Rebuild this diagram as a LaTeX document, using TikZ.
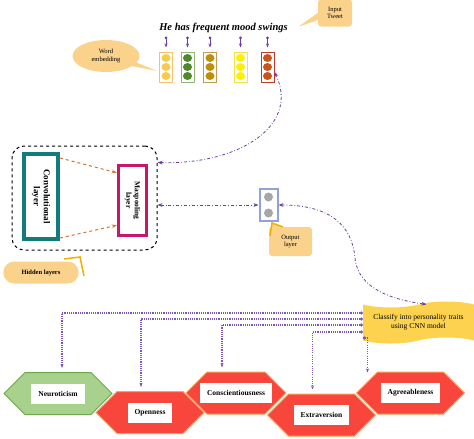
\documentclass[tikz,border=0pt]{standalone}
\usepackage{fontspec}
\setmainfont{Liberation Serif}
\usetikzlibrary{arrows.meta,shapes.symbols,shapes.callouts,shapes.misc}

\definecolor{convteal}{HTML}{127C7C}
\definecolor{maxmag}{HTML}{C7166B}
\definecolor{orgarr}{HTML}{D9722B}
\definecolor{purp}{HTML}{6A3FA0}
\definecolor{dotpurp}{HTML}{7C55BE}
\definecolor{callfill}{HTML}{FAD28C}
\definecolor{gold}{HTML}{F2B100}
\definecolor{clsyellow}{HTML}{FDD24E}
\definecolor{outblue}{HTML}{8FA2DC}
\definecolor{hexred}{HTML}{F9463C}
\definecolor{hexedge}{HTML}{F7A35C}
\definecolor{hexgreen}{HTML}{A9D18E}
\definecolor{hexgreenedge}{HTML}{6FA84B}
\definecolor{embAl}{HTML}{F5C36B}
\definecolor{embAf}{HTML}{F7CB4D}
\definecolor{embBl}{HTML}{93B97A}
\definecolor{embBf}{HTML}{4E8A2C}
\definecolor{embCl}{HTML}{C49A55}
\definecolor{embCf}{HTML}{BF8E0B}
\definecolor{embDl}{HTML}{F2E24B}
\definecolor{embDf}{HTML}{FFF000}
\definecolor{embEl}{HTML}{C0392B}
\definecolor{embEf}{HTML}{C9541C}

\begin{document}
\begin{tikzpicture}[x=1pt,y=-1pt,
  small/.style={font=\fontsize{6.5}{7.5}\selectfont,align=center},
  trait/.style={fill=white,inner xsep=7pt,minimum height=20pt,font=\bfseries\fontsize{7.5}{8.5}\selectfont},
  hexa/.style={signal,signal to=west and east,signal pointer angle=90,
    minimum width=108pt,minimum height=42pt,fill=hexred,draw=hexedge,line width=1pt,inner sep=0pt},
  wordarrow/.style={purp,line width=0.8pt,{Diamond[length=3pt,width=3pt]}-{Stealth[length=4pt]},shorten >=4pt},
  dotarrow/.style={dotpurp,line width=1.1pt,dash pattern=on 1.1pt off 1.1pt,{Circle[length=3pt]}-{Stealth[length=4pt]},shorten >=4pt},
  dasharrow/.style={purp,line width=0.8pt,dash dot,{Stealth[length=5pt]}-{Stealth[length=5pt]}},
  orgarrow/.style={orgarr,line width=1pt,dashed,-{Stealth[length=5pt]}}]
  \useasboundingbox (0,0) rectangle (474,439);

  % tweet and word embeddings
  \node[font=\bfseries\itshape\fontsize{10.5}{12}\selectfont] (tweet) at (223.5,28) {He has frequent mood swings};
  \foreach \i/\x/\lc/\fc in {1/166/embAl/embAf,2/187.5/embBl/embBf,3/210/embCl/embCf,4/240.5/embDl/embDf,5/267.5/embEl/embEf}{
    \node[draw=\lc,line width=1pt,minimum width=13pt,minimum height=30pt,inner sep=0pt] (e\i) at (\x,67) {};
    \foreach \y in {58,67,76}
      \fill[\fc] (\x,\y) ellipse (4.5 and 4);
    \draw[wordarrow] (e\i.north |- tweet.south) -- (e\i.north);
  }
  \node[ellipse callout,fill=callfill,minimum width=67pt,minimum height=32pt,
    callout absolute pointer={(157,71)},small] (wordemb) at (106,56) {Word\\embedding};
  \node[rectangle callout,rounded corners=3pt,fill=callfill,minimum width=34pt,minimum height=27pt,
    callout absolute pointer={(298,27)},small] (input) at (335,13) {Input\\Tweet};

  % hidden layers
  \node[draw,dashed,line width=1pt,rounded corners=12pt,minimum width=145pt,minimum height=104pt] (hid) at (84.5,198) {};
  \node[draw=convteal,fill=white,line width=4pt,minimum width=34pt,minimum height=85pt,inner sep=0pt] (conv) at (41,196.5) {};
  \node[rotate=-90,align=center,font=\bfseries\fontsize{9}{10}\selectfont] (convtxt) at (conv) {Convolutional\\layer};
  \node[draw=maxmag,fill=white,line width=3.5pt,minimum width=28pt,minimum height=70pt,inner sep=0pt] (max) at (132.5,200.5) {};
  \node[rotate=-90,align=center,font=\bfseries\fontsize{7.5}{8.5}\selectfont] (maxtxt) at (max) {Maxpooling\\layer};
  \draw[orgarrow] ([yshift=-6pt]conv.north east) -- ([yshift=-9pt]max.north west);
  \draw[orgarrow] ([yshift=3pt]conv.south east) -- ([yshift=12pt]max.south west);
  \node[rounded rectangle,fill=callfill,minimum width=82pt,minimum height=22pt,
    font=\bfseries\fontsize{6.5}{7.5}\selectfont] (hidlab) at (41,272.5) {Hidden layers};
  \draw[gold,line width=1.5pt] (64,259) -- (80,257) -- (84,276);

  % output layer
  \node[draw=outblue,line width=2pt,minimum width=18pt,minimum height=32pt,inner sep=0pt] (out) at (268.5,205) {};
  \fill[black!35] (268.5,197) circle (4.5);
  \fill[black!35] (268.5,213) circle (4.5);
  \node[rounded corners=3pt,fill=callfill,minimum width=43pt,minimum height=29pt,small] (outlab) at (290.5,241.5) {Output\\layer};
  \filldraw[fill=callfill,draw=gold,line width=1.5pt] (270,236) -- (272,223) -- (283,227);

  % classifier
  \node[tape,tape bend top=in and out,tape bend bottom=in and out,tape bend height=6pt,fill=clsyellow,
    minimum width=111pt,minimum height=42pt,font=\fontsize{7.5}{9}\selectfont,align=center] (cls) at (418.5,322.5)
    {Classify into personality traits\\using CNN model};

  % traits
  \node[hexa,fill=hexgreen,draw=hexgreenedge] (neu) at (58,393.5) {};
  \node[trait] (neutxt) at (neu) {Neuroticism};
  \node[hexa] (opn) at (150,412.5) {};
  \node[trait] (opntxt) at (opn) {Openness};
  \node[hexa,minimum width=100pt] (con) at (236,393) {};
  \node[trait] (contxt) at (con) {Conscientiousness};
  \node[hexa] (ext) at (321.5,415) {};
  \node[trait] (exttxt) at (ext) {Extraversion};
  \node[hexa] (agr) at (410.5,393) {};
  \node[trait] (agrtxt) at (agr) {Agreeableness};

  % connectors
  \draw[dasharrow] ([yshift=-17pt]hid.north east) .. controls (240,165) and (300,125) .. ([yshift=-5pt]e5.east);
  \draw[dasharrow] (out.west -| hid.east) -- (out.west);
  \draw[dasharrow] (out.east) .. controls (330,205) and (352,225) .. (355,258)
    .. controls (358,290) and (395,300) .. ([xshift=8pt]cls.north);
  \draw[dotarrow] ([yshift=9.5pt]cls.west) -| ([xshift=4pt]neu.north);
  \draw[dotarrow] ([yshift=3.5pt]cls.west) -| ([xshift=-9pt]opn.north);
  \draw[dotarrow] ([yshift=-2.5pt]cls.west) -| ([xshift=-14pt]con.north);
  \draw[dotarrow] ([yshift=-9.5pt]cls.west) -| ([xshift=-9pt]ext.north);
  \draw[dotarrow] ([yshift=-15.5pt]cls.west) -| ([xshift=-43pt,yshift=-5pt]agr.north);
\end{tikzpicture}
\end{document}
